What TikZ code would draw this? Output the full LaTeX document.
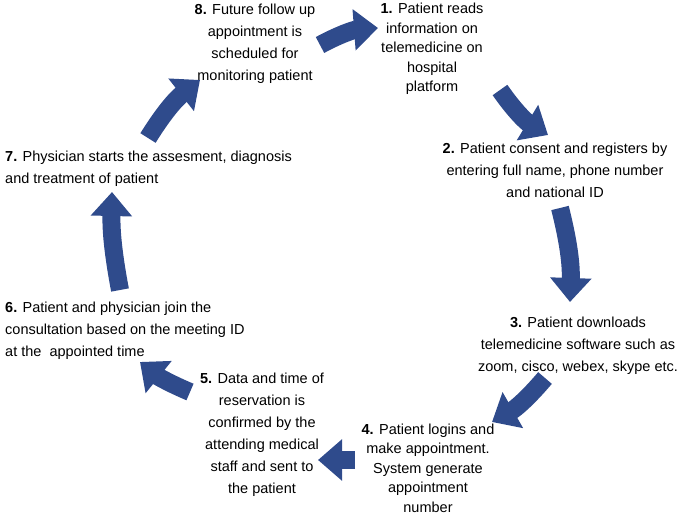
\documentclass[tikz,border=0pt]{standalone}
\usepackage{fontspec}
\setmainfont{Liberation Sans}
\usetikzlibrary{arrows.meta}
\definecolor{arr}{HTML}{2F4B8C}
\begin{document}
\begin{tikzpicture}[x=1pt,y=-1pt,
  t/.style={font=\fontsize{14.5}{22}\selectfont,inner sep=0pt,align=center},
  tc/.style={t,font=\fontsize{14.5}{19.5}\selectfont},
  tl/.style={t,align=left,anchor=west},
  ba/.style={draw=arr,line width=18pt,-{Triangle[width=40pt,length=24pt]}}]
\useasboundingbox (0,0) rectangle (685,516);
\node[tc] (n1) at (432,49) {\textbf{1.} Patient reads\\information on\\telemedicine on\\hospital\\platform};
\node[t] (n2) at (555,170) {\textbf{2.} Patient consent and registers by\\entering full name, phone number\\and national ID};
\node[t] (n3) at (578,346) {\textbf{3.} Patient downloads\\telemedicine software such as\\zoom, cisco, webex, skype etc.};
\node[tc] (n4) at (428,468) {\textbf{4.} Patient logins and\\make appointment.\\System generate\\appointment\\number};
\node[t] (n5) at (262,435) {\textbf{5.} Data and time of\\reservation is\\confirmed by the\\attending medical\\staff and sent to\\the patient};
\node[tl] (n6) at (5,331) {\textbf{6.} Patient and physician join the\\consultation based on the meeting ID\\at the\ \ appointed time};
\node[tl] (n7) at (5,169) {\textbf{7.} Physician starts the assesment, diagnosis\\and treatment of patient};
\node[t] (n8) at (255,44) {\textbf{8.} Future follow up\\appointment is\\scheduled for\\monitoring patient};
\coordinate (a1s) at (320,45); \coordinate (a1e) at (378,28);
\coordinate (a2s) at (500,90); \coordinate (a2e) at (548,135);
\coordinate (a3s) at (560,208); \coordinate (a3e) at (570,302);
\coordinate (a4s) at (545,378); \coordinate (a4e) at (492,422);
\coordinate (a5s) at (355,460); \coordinate (a5e) at (318,460);
\coordinate (a6s) at (190,392); \coordinate (a6e) at (140,362);
\coordinate (a7s) at (120,290); \coordinate (a7e) at (112,192);
\coordinate (a8s) at (148,138); \coordinate (a8e) at (200,80);
\draw[ba] (a1s) to[bend left=12] (a1e);
\draw[ba] (a2s) to[bend right=12] (a2e);
\draw[ba] (a3s) to[bend left=8] (a3e);
\draw[ba] (a4s) to[bend left=10] (a4e);
\draw[ba] (a5s) -- (a5e);
\draw[ba] (a6s) to[bend left=8] (a6e);
\draw[ba] (a7s) to[bend left=6] (a7e);
\draw[ba] (a8s) to[bend left=10] (a8e);
\end{tikzpicture}
\end{document}
